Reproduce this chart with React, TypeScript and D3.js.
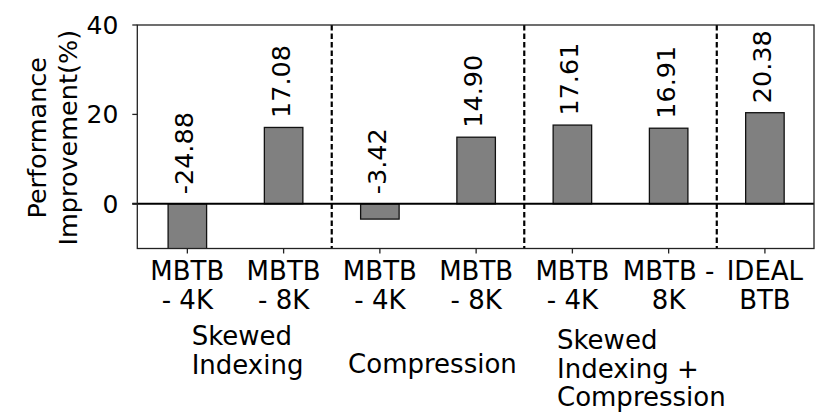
import React, { useEffect, useRef } from "react";
import * as d3 from "d3";

// bar data
const categories = [
  ["MBTB", "- 4K"],
  ["MBTB", "- 8K"],
  ["MBTB", "- 4K"],
  ["MBTB", "- 8K"],
  ["MBTB", "- 4K"],
  ["MBTB -", "8K"],
  ["IDEAL", "BTB"],
];
const values = [-24.88, 17.08, -3.42, 14.9, 17.61, 16.91, 20.38];
const yTicks = [0, 20, 40];
const separators = [1.5, 3.5, 5.5];
const groupLabels = [
  ["Skewed", "Indexing"],
  ["Compression"],
  ["Skewed", "Indexing +", "Compression"],
];
// where each group label starts (x in category units) and its first baseline
const groupX = [0.045, 1.67, 3.84];
const groupY = [345, 373, 349];

const W = 830;
const H = 415;
const FONT = "'DejaVu Sans', sans-serif";
const FS = 26;

const App = () => {
  const ref = useRef<SVGSVGElement>(null);

  useEffect(() => {
    const svg = d3.select(ref.current);
    svg.selectAll("*").remove();

    const left = 137.3;
    const right = 814;
    const top = 25;
    const bottom = 248.5;

    const x = d3.scaleLinear().domain([-0.52, 6.51]).range([left, right]);
    const y = d3.scaleLinear().domain([-10, 40]).range([bottom, top]);

    const clipId = "plotclip";
    svg
      .append("clipPath")
      .attr("id", clipId)
      .append("rect")
      .attr("x", left)
      .attr("y", top)
      .attr("width", right - left)
      .attr("height", bottom - top);

    const plot = svg.append("g").attr("clip-path", `url(#${clipId})`);

    const barW = x(0.4) - x(0);

    plot
      .selectAll("rect.bar")
      .data(values)
      .join("rect")
      .attr("class", "bar")
      .attr("x", (_, i) => x(i) - barW / 2)
      .attr("y", (d) => y(Math.max(d, 0)))
      .attr("width", barW)
      .attr("height", (d) => Math.abs(y(d) - y(0)))
      .attr("fill", "#808080")
      .attr("stroke", "#111")
      .attr("stroke-width", 1.3);

    // zero line
    svg
      .append("line")
      .attr("x1", left - 5)
      .attr("x2", right)
      .attr("y1", y(0))
      .attr("y2", y(0))
      .attr("stroke", "#000")
      .attr("stroke-width", 2);

    // group separators
    plot
      .selectAll("line.sep")
      .data(separators)
      .join("line")
      .attr("class", "sep")
      .attr("x1", (d) => x(d))
      .attr("x2", (d) => x(d))
      .attr("y1", top)
      .attr("y2", bottom)
      .attr("stroke", "#000")
      .attr("stroke-width", 2.2)
      .attr("stroke-dasharray", "5.5,3");

    // frame
    svg
      .append("rect")
      .attr("x", left)
      .attr("y", top)
      .attr("width", right - left)
      .attr("height", bottom - top)
      .attr("fill", "none")
      .attr("stroke", "#222")
      .attr("stroke-width", 1.3);

    // value labels
    svg
      .selectAll("text.val")
      .data(values)
      .join("text")
      .attr("class", "val")
      .attr(
        "transform",
        (d, i) => `translate(${x(i) + 6},${y(Math.max(d, 0)) - 9.5}) rotate(-90)`
      )
      .attr("font-family", FONT)
      .attr("font-size", FS - 0.5)
      .attr("fill", "#000")
      .text((d) => d.toFixed(2));

    // y axis
    const yAxis = svg.append("g");
    yAxis
      .selectAll("line")
      .data(yTicks)
      .join("line")
      .attr("x1", left - 5)
      .attr("x2", left)
      .attr("y1", (d) => y(d))
      .attr("y2", (d) => y(d))
      .attr("stroke", "#222")
      .attr("stroke-width", 1.3);
    yAxis
      .selectAll("text")
      .data(yTicks)
      .join("text")
      .attr("x", left - 19)
      .attr("y", (d) => y(d) + 9)
      .attr("text-anchor", "end")
      .attr("font-family", FONT)
      .attr("font-size", 25)
      .text((d) => d);

    // y label
    const yl = svg
      .append("text")
      .attr("transform", `translate(0,${(top + bottom) / 2 + 1}) rotate(-90)`)
      .attr("text-anchor", "middle")
      .attr("font-family", FONT)
      .attr("font-size", FS - 0.5);
    yl.append("tspan").attr("x", 0).attr("y", 46).text("Performance");
    yl.append("tspan").attr("x", 0).attr("y", 76.5).text("Improvement(%)");

    // x axis ticks and labels
    const xAxis = svg.append("g");
    xAxis
      .selectAll("line")
      .data(categories)
      .join("line")
      .attr("x1", (_, i) => x(i))
      .attr("x2", (_, i) => x(i))
      .attr("y1", bottom)
      .attr("y2", bottom + 5)
      .attr("stroke", "#222")
      .attr("stroke-width", 1.3);
    const xt = xAxis
      .selectAll("text")
      .data(categories)
      .join("text")
      .attr("text-anchor", "middle")
      .attr("font-family", FONT)
      .attr("font-size", FS);
    xt.each(function (d, i) {
      const t = d3.select(this);
      d.forEach((line, k) => {
        t.append("tspan")
          .attr("x", x(i))
          .attr("y", 279.5 + k * 29)
          .text(line);
      });
    });

    // group labels
    groupLabels.forEach((lines, g) => {
      const t = svg
        .append("text")
        .attr("font-family", FONT)
        .attr("font-size", FS);
      lines.forEach((line, k) => {
        t.append("tspan")
          .attr("x", x(groupX[g]))
          .attr("y", groupY[g] + k * 28.5)
          .text(line);
      });
    });
  }, []);

  return (
    <svg
      ref={ref}
      width={W}
      height={H}
      style={{ position: "absolute", left: 0, top: 0, background: "#fff" }}
    />
  );
};

export default App;
